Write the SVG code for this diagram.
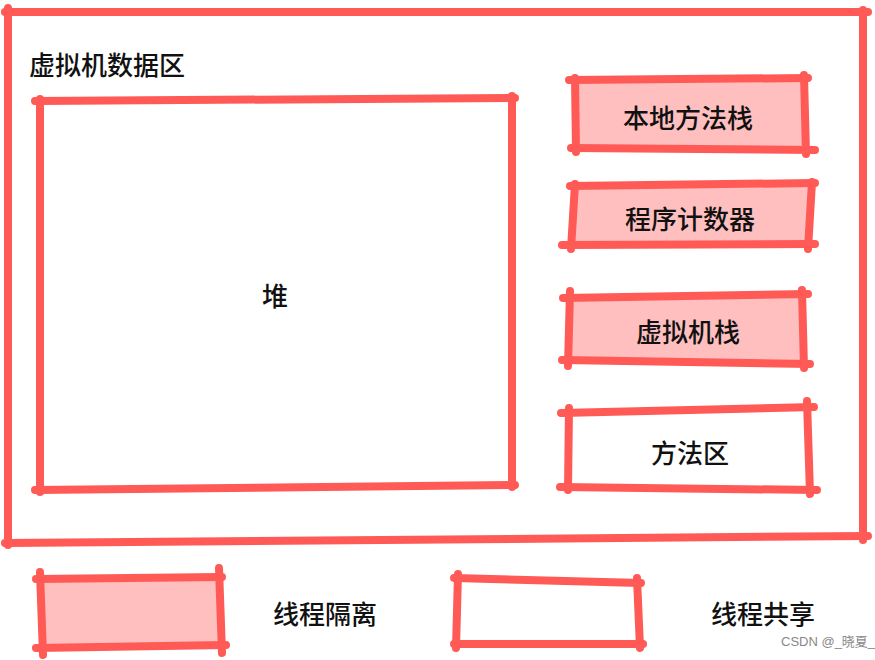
<svg xmlns="http://www.w3.org/2000/svg" width="875" height="660" viewBox="0 0 875 660">
<style>
.e{stroke:#FF5A55;stroke-width:8;stroke-linecap:round;fill:none}
.f{fill:#FFBFBF;stroke:none}
.t{font-family:"Noto Sans CJK SC","Noto Sans",sans-serif;font-size:26px;font-weight:500;fill:#111;text-anchor:middle;dominant-baseline:central}
.w{font-family:"Liberation Sans","Noto Sans CJK SC",sans-serif;font-size:13px;fill:#888}
</style>
<rect width="875" height="660" fill="#fff"/>
<g id="outer">
<line class="e" x1="5" y1="12" x2="868" y2="12"/>
<line class="e" x1="8" y1="8" x2="8" y2="545"/>
<line class="e" x1="5" y1="543" x2="868" y2="536"/>
<line class="e" x1="863" y1="10" x2="863" y2="540"/>
<text class="t" x="29" y="63" style="text-anchor:start">虚拟机数据区</text>
</g>
<g id="heap">
<line class="e" x1="35" y1="101" x2="515" y2="98"/>
<line class="e" x1="40" y1="99" x2="40" y2="492"/>
<line class="e" x1="35" y1="490" x2="515" y2="485"/>
<line class="e" x1="512" y1="96" x2="512" y2="487"/>
<text class="t" x="275" y="294">堆</text>
</g>
<g id="native">
<polygon class="f" points="575,80 805,78 807,150 575,149"/>
<line class="e" x1="569" y1="80" x2="808" y2="78"/>
<line class="e" x1="575" y1="78" x2="576" y2="152"/>
<line class="e" x1="571" y1="148" x2="815" y2="150"/>
<line class="e" x1="804" y1="75" x2="806" y2="154"/>
<text class="t" x="688" y="116">本地方法栈</text>
</g>
<g id="pc">
<polygon class="f" points="575,186 810,184 808,244 568,245"/>
<line class="e" x1="570" y1="186" x2="815" y2="183"/>
<line class="e" x1="575" y1="184" x2="571" y2="249"/>
<line class="e" x1="562" y1="245" x2="815" y2="244"/>
<line class="e" x1="812" y1="182" x2="808" y2="249"/>
<text class="t" x="690" y="217">程序计数器</text>
</g>
<g id="vmstack">
<polygon class="f" points="570,298 801,295 802,362 568,360"/>
<line class="e" x1="563" y1="298" x2="808" y2="294"/>
<line class="e" x1="570" y1="291" x2="568" y2="366"/>
<line class="e" x1="562" y1="360" x2="810" y2="364"/>
<line class="e" x1="802" y1="290" x2="804" y2="368"/>
<text class="t" x="688" y="330">虚拟机栈</text>
</g>
<g id="method">
<line class="e" x1="561" y1="413" x2="814" y2="407"/>
<line class="e" x1="569" y1="408" x2="568" y2="490"/>
<line class="e" x1="560" y1="487" x2="817" y2="490"/>
<line class="e" x1="807" y1="401" x2="810" y2="494"/>
<text class="t" x="690" y="451">方法区</text>
</g>
<g id="legend-isolated">
<polygon class="f" points="40,580 218,578 222,645 42,647"/>
<line class="e" x1="36" y1="579" x2="222" y2="577"/>
<line class="e" x1="40" y1="572" x2="43" y2="655"/>
<line class="e" x1="36" y1="648" x2="226" y2="645"/>
<line class="e" x1="219" y1="568" x2="222" y2="653"/>
<text class="t" x="325" y="612">线程隔离</text>
</g>
<g id="legend-shared">
<line class="e" x1="454" y1="578" x2="641" y2="583"/>
<line class="e" x1="458" y1="574" x2="456" y2="648"/>
<line class="e" x1="454" y1="644" x2="643" y2="644"/>
<line class="e" x1="637" y1="578" x2="640" y2="648"/>
<text class="t" x="763" y="612">线程共享</text>
</g>
<g id="connectors"/>
<text class="w" x="781" y="646">CSDN @_晓夏_</text>
</svg>
